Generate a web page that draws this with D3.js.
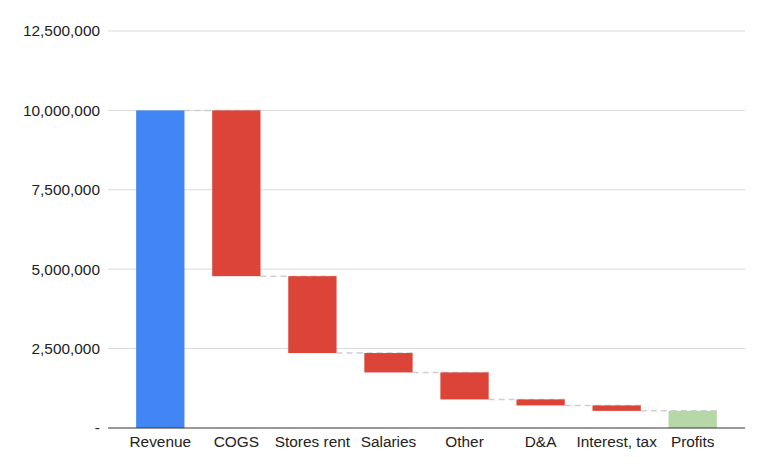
<!DOCTYPE html>
<html><head><meta charset="utf-8">
<script src="https://cdn.jsdelivr.net/npm/d3@7"></script>
<style>body{margin:0;background:#fff}svg{display:block}text{font-family:Arial,"Liberation Sans",sans-serif}</style>
</head><body><div id="chart"></div>
<script>
const categories = ["Revenue","COGS","Stores rent","Salaries","Other","D&A","Interest, tax","Profits"];
const changes = [10000000,-5220000,-2420000,-610000,-850000,-190000,-170000,540000];
const kinds = ["total","delta","delta","delta","delta","delta","delta","total"];
const yTicks = [0,2500000,5000000,7500000,10000000,12500000];
const tickLabels = ["-","2,500,000","5,000,000","7,500,000","10,000,000","12,500,000"];

const W=768,H=475;
const svg=d3.select("#chart").append("svg").attr("width",W).attr("height",H);
const x=d3.scaleBand().domain(categories).range([108,745]).paddingInner(0.365).paddingOuter(0.37);
const y=d3.scaleLinear().domain([0,12500000]).range([428,31]);

let run=0;
const bars=categories.map((c,i)=>{
  let lo,hi;
  if(kinds[i]==="total"){ if(i===0){run=changes[i];} lo=0; hi=(i===0)?changes[i]:run; }
  else { const s=run; run+=changes[i]; lo=Math.min(s,run); hi=Math.max(s,run); }
  return {c,lo,hi,end:run,kind:kinds[i],i};
});

svg.append("g").selectAll("line").data(yTicks.slice(1)).join("line")
  .attr("x1",108).attr("x2",745).attr("y1",d=>y(d)).attr("y2",d=>y(d))
  .attr("stroke","#d9d9d9").attr("stroke-width",1);

svg.append("g").selectAll("text").data(yTicks).join("text")
  .attr("x",100).attr("y",d=>y(d)).attr("dy","0.35em").attr("text-anchor","end")
  .attr("font-size",15.4).attr("fill","#222").text((d,i)=>tickLabels[i]);

const conn=bars.slice(0,-1).map((b,i)=>({x1:x(b.c)+x.bandwidth(),x2:x(categories[i+1])+x.bandwidth(),v:b.end}));
svg.append("g").selectAll("line").data(conn).join("line")
  .attr("x1",d=>d.x1).attr("x2",d=>d.x2).attr("y1",d=>y(d.v)).attr("y2",d=>y(d.v))
  .attr("stroke","#cfcfcf").attr("stroke-width",1.5).attr("stroke-dasharray","6,4");

const color=b=>b.i===0?"#4285f4":(b.kind==="total"?"#b6d7a8":"#db4437");
svg.append("g").selectAll("rect").data(bars).join("rect")
  .attr("x",d=>x(d.c)).attr("width",x.bandwidth())
  .attr("y",d=>y(d.hi)).attr("height",d=>y(d.lo)-y(d.hi))
  .attr("fill",color);

svg.append("line").attr("x1",108).attr("x2",745).attr("y1",y(0)).attr("y2",y(0))
  .attr("stroke","#333").attr("stroke-width",1);

svg.append("g").selectAll("text").data(categories).join("text")
  .attr("x",d=>x(d)+x.bandwidth()/2).attr("y",447).attr("text-anchor","middle")
  .attr("font-size",15.4).attr("fill","#222").text(d=>d);
</script></body></html>
